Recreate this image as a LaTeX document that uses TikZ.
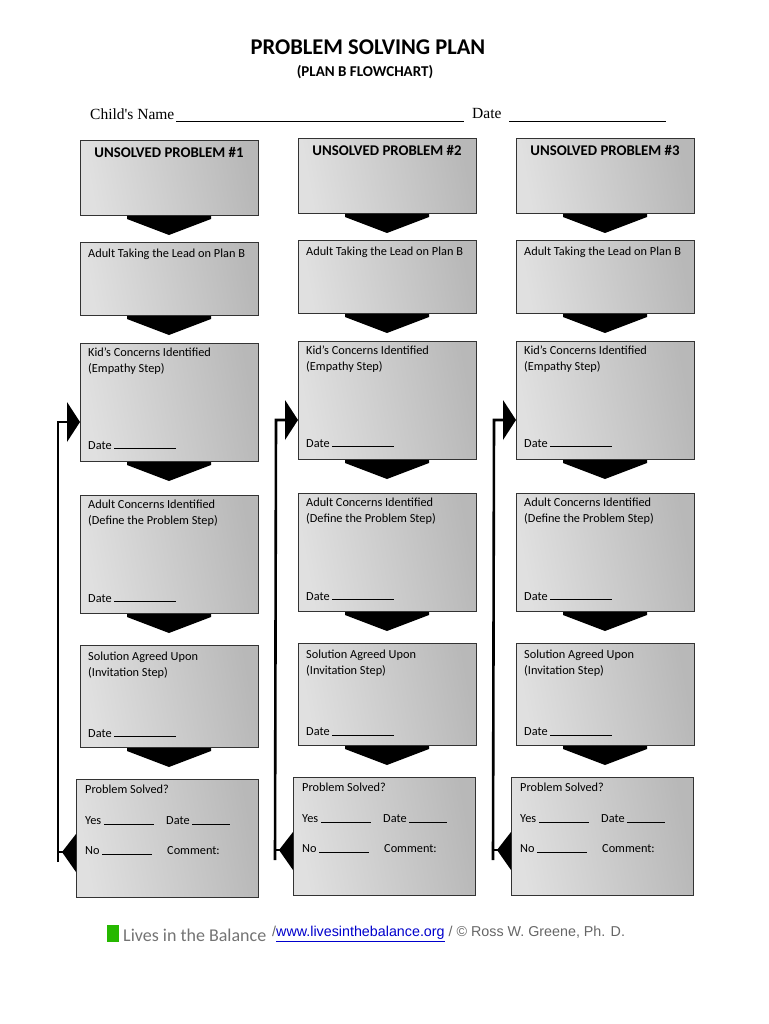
\documentclass[tikz,border=0pt]{standalone}
\usepackage{fontspec}
\setmainfont{Carlito}
\newfontfamily\serifx{Liberation Serif}
\newfontfamily\arialx{Liberation Sans}
\begin{document}
\begin{tikzpicture}[x=1pt,y=-1pt,
  boxs/.style={draw=black!80,line width=0.8pt,left color=black!12,right color=black!28,shading angle=100},
  chev/.style={fill=black},
  lbl/.style={anchor=north west,font=\fontsize{12.3}{16}\selectfont,text=black,align=left,inner sep=0pt},
  loopl/.style={line width=2.6pt}]
\useasboundingbox (0,0) rectangle (768,1024);
\node[font=\bfseries\fontsize{22.5}{25}\selectfont] (title) at (368,47) {PROBLEM SOLVING PLAN};
\node[font=\bfseries\fontsize{15}{17}\selectfont] (sub) at (365,72) {(PLAN B FLOWCHART)};
\node[anchor=west,font=\serifx\fontsize{15.5}{17}\selectfont,inner sep=0pt] (name) at (90,114) {Child's Name};
\draw[line width=0.5pt] (176,121) -- (464,121) (509,121) -- (666,121);
\node[anchor=west,font=\serifx\fontsize{15.5}{17}\selectfont,inner sep=0pt] (date) at (472,114) {Date};
\foreach \c/\xl/\xb/\dy/\n in {1/80/76/0/1,2/298/293/-2/2,3/516/511/-2/3}{
  \pgfmathsetmacro{\xr}{\xl+178}
  \pgfmathsetmacro{\xm}{\xl+89}
  \node[boxs,minimum width=178,minimum height=75,anchor=north west] (u\c) at (\xl,140+\dy) {};
  \node[anchor=north,font=\bfseries\fontsize{14.8}{16}\selectfont,inner sep=0pt] (ut\c) at (\xm,147+\dy) {UNSOLVED PROBLEM \#\n};
  \node[boxs,minimum width=178,minimum height=73,anchor=north west] (a\c) at (\xl,242+\dy) {};
  \node[lbl] (at\c) at (\xl+8,249+\dy) {Adult Taking the Lead on Plan B};
  \node[boxs,minimum width=178,minimum height=118,anchor=north west] (k\c) at (\xl,343+\dy) {};
  \node[lbl] (kt\c) at (\xl+8,348+\dy) {Kid's Concerns Identified\\(Empathy Step)};
  \node[lbl] (kd\c) at (\xl+8,441+\dy) {Date \rule{62pt}{0.6pt}};
  \node[boxs,minimum width=178,minimum height=118,anchor=north west] (d\c) at (\xl,495+\dy) {};
  \node[lbl] (dt\c) at (\xl+8,500+\dy) {Adult Concerns Identified\\(Define the Problem Step)};
  \node[lbl] (dd\c) at (\xl+8,594+\dy) {Date \rule{62pt}{0.6pt}};
  \node[boxs,minimum width=178,minimum height=102,anchor=north west] (s\c) at (\xl,645+\dy) {};
  \node[lbl] (st\c) at (\xl+8,652+\dy) {Solution Agreed Upon\\(Invitation Step)};
  \node[lbl] (sd\c) at (\xl+8,729+\dy) {Date \rule{62pt}{0.6pt}};
  \node[boxs,minimum width=182,minimum height=118,anchor=north west] (p\c) at (\xb,779+\dy) {};
  \node[lbl] (pt\c) at (\xb+9,785+\dy) {Problem Solved?};
  \node[lbl] (py\c) at (\xb+9,816+\dy) {Yes \rule{50pt}{0.6pt}};
  \node[lbl] (pdt\c) at (\xb+90,816+\dy) {Date \rule{38pt}{0.6pt}};
  \node[lbl] (pn\c) at (\xb+9,846+\dy) {No \rule{50pt}{0.6pt}};
  \node[lbl] (pc\c) at (\xb+91,846+\dy) {Comment:};
  \foreach \yt in {215,315,461,613,747}{
    \fill[chev] (\xm-42,\yt+\dy+1) -- (\xm+42,\yt+\dy+1) -- (\xm+42,\yt+\dy+4) -- (\xm,\yt+\dy+20) -- (\xm-42,\yt+\dy+4) -- cycle;
  }
  \coordinate (lb\c) at (\xb-18,862+\dy);
  \coordinate (lt\c) at (\xl-22,422+\dy);
  \draw[loopl] (\xb-1,852+\dy) -- (\xb-17,852+\dy) ;
  \draw[loopl] (lb\c) -- (lt\c) -- (\xl-12,422+\dy);
  \fill (\xb,834+\dy) -- (\xb-14,852+\dy) -- (\xb,872+\dy) -- cycle;
  \fill (\xl-13,402+\dy) -- (\xl,422+\dy) -- (\xl-13,442+\dy) -- cycle;
}
\fill[green!65!black!80!lime] (107,925) rectangle (119,942);
\node[anchor=west,inner sep=0pt,font=\fontsize{18}{20}\selectfont,text=black!55] (lib) at (123,935) {Lives in the Balance};
\node[anchor=west,inner sep=0pt,font=\arialx\fontsize{14.3}{16}\selectfont,text=black!60] (url) at (272,934) {/\textcolor{blue!80!black}{\underline{www.livesinthebalance.org}} / © Ross W. Greene, Ph. D.};
\end{tikzpicture}
\end{document}
